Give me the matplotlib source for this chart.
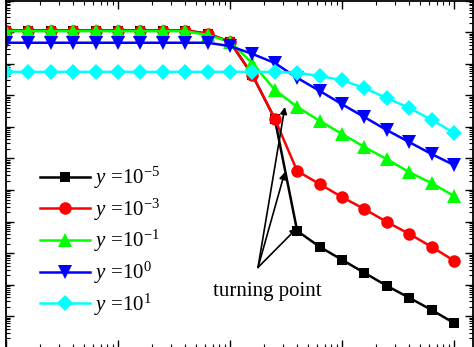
import numpy as np
import matplotlib
matplotlib.use("Agg")
import matplotlib.pyplot as plt
from matplotlib.ticker import LogLocator, NullFormatter

plt.rcParams['font.family'] = ['Liberation Serif', 'DejaVu Serif']
plt.rcParams['mathtext.fontset'] = 'custom'
plt.rcParams['mathtext.rm'] = 'Liberation Serif'
plt.rcParams['mathtext.it'] = 'Liberation Serif:italic'

# x values (21 points, one every 0.2 decade)
x = [1.0, 1.585, 2.512, 3.981, 6.310, 10.0, 15.85, 25.12, 39.81, 63.10,
     100.0, 158.5, 251.2, 398.1, 631.0, 1000.0, 1585.0, 2512.0, 3981.0, 6310.0, 10000.0]

y_m5 = [1.12e-1, 1.12e-1, 1.12e-1, 1.12e-1, 1.12e-1, 1.12e-1, 1.12e-1, 1.12e-1, 1.12e-1, 9.0e-2,
        4.9e-2, 4.4e-3, 1.8e-4, 5.1e-8, 1.6e-8, 6.2e-9, 2.4e-9, 9.3e-10, 3.9e-10, 1.6e-10, 6.2e-11]
y_m3 = [1.12e-1, 1.12e-1, 1.12e-1, 1.12e-1, 1.12e-1, 1.12e-1, 1.12e-1, 1.12e-1, 1.12e-1, 9.0e-2,
        4.9e-2, 4.4e-3, 1.8e-4, 4.0e-6, 1.55e-6, 6.0e-7, 2.5e-7, 9.8e-8, 4.1e-8, 1.6e-8, 5.8e-9]
y_m1 = [1.07e-1, 1.07e-1, 1.07e-1, 1.07e-1, 1.07e-1, 1.07e-1, 1.07e-1, 1.07e-1, 1.07e-1, 8.1e-2,
        4.9e-2, 1.05e-2, 1.48e-3, 4.3e-4, 1.55e-4, 6.0e-5, 2.3e-5, 9.5e-6, 3.7e-6, 1.66e-6, 6.5e-7]
y_0 = [4.6e-2, 4.6e-2, 4.6e-2, 4.6e-2, 4.6e-2, 4.6e-2, 4.6e-2, 4.6e-2, 4.6e-2, 4.6e-2,
       3.6e-2, 2.04e-2, 1.05e-2, 3.55e-3, 1.38e-3, 5.2e-4, 2.04e-4, 7.9e-5, 3.3e-5, 1.38e-5, 6.2e-6]
y_1 = [5.5e-3, 5.5e-3, 5.5e-3, 5.5e-3, 5.5e-3, 5.5e-3, 5.5e-3, 5.5e-3, 5.5e-3, 5.5e-3,
       5.5e-3, 5.5e-3, 5.5e-3, 5.1e-3, 4.1e-3, 3.0e-3, 1.7e-3, 8.1e-4, 4.0e-4, 1.66e-4, 6.5e-5]

labels = [r'$y$ =10$^{-5}$', r'$y$ =10$^{-3}$', r'$y$ =10$^{-1}$', r'$y$ =10$^{0}$', r'$y$ =10$^{1}$']
series = [y_m5, y_m3, y_m1, y_0, y_1]
colors = ['#000000', '#ff0000', '#00ff00', '#0000ff', '#00ffff']
markers = ['s', 'o', '^', 'v', 'D']
msizes = [7.5, 9.0, 10.5, 10, 8]

fig = plt.figure(figsize=(4.74, 3.47), dpi=100)
ax = fig.add_axes([6/474, -1/347, 467/474, 347.5/347])

handles = []
for ys, c, m, ms, lab in zip(series, colors, markers, msizes, labels):
    h, = ax.plot(x, ys, color=c, marker=m, markersize=ms, lw=1.8, label=lab,
                 markeredgewidth=0)
    handles.append(h)

ax.set_xscale('log')
ax.set_yscale('log')
ax.set_xlim(1, 10**4.17)
ax.set_ylim(10**-11, 10**0.0)

for axis in (ax.xaxis, ax.yaxis):
    axis.set_major_locator(LogLocator(base=10, numticks=100))
    axis.set_minor_locator(LogLocator(base=10, subs=np.arange(2, 10), numticks=100))
    axis.set_minor_formatter(NullFormatter())
ax.tick_params(which='both', direction='in', top=True, right=True,
               labelbottom=False, labelleft=False, labeltop=False, labelright=False)
ax.tick_params(which='major', length=5.5, width=1.0)
ax.tick_params(which='minor', length=3, width=0.8)
for s in ax.spines.values():
    s.set_linewidth(1.3)

leg = ax.legend(handles=handles, loc='upper left', bbox_to_anchor=(34/467, 1 - 164.5/347.5),
                frameon=False, fontsize=15, handlelength=2.4, handletextpad=0.2,
                labelspacing=0.26, borderpad=0, borderaxespad=0)

# annotation: turning point
txt_xy = (10**2.25, 10**-8.45)
tips = [(10**2.49, 10**-3.37), (10**2.49, 10**-5.43), (10**2.60, 10**-7.2)]
for tip in tips:
    ax.annotate('', xy=tip, xytext=txt_xy,
                arrowprops=dict(arrowstyle='-|>', color='black', lw=1.2, mutation_scale=10,
                                shrinkA=0, shrinkB=0))
ax.text(10**2.33, 10**-9.2, 'turning point', fontsize=15, ha='center', va='center')

fig.savefig('out.png', dpi=100)
